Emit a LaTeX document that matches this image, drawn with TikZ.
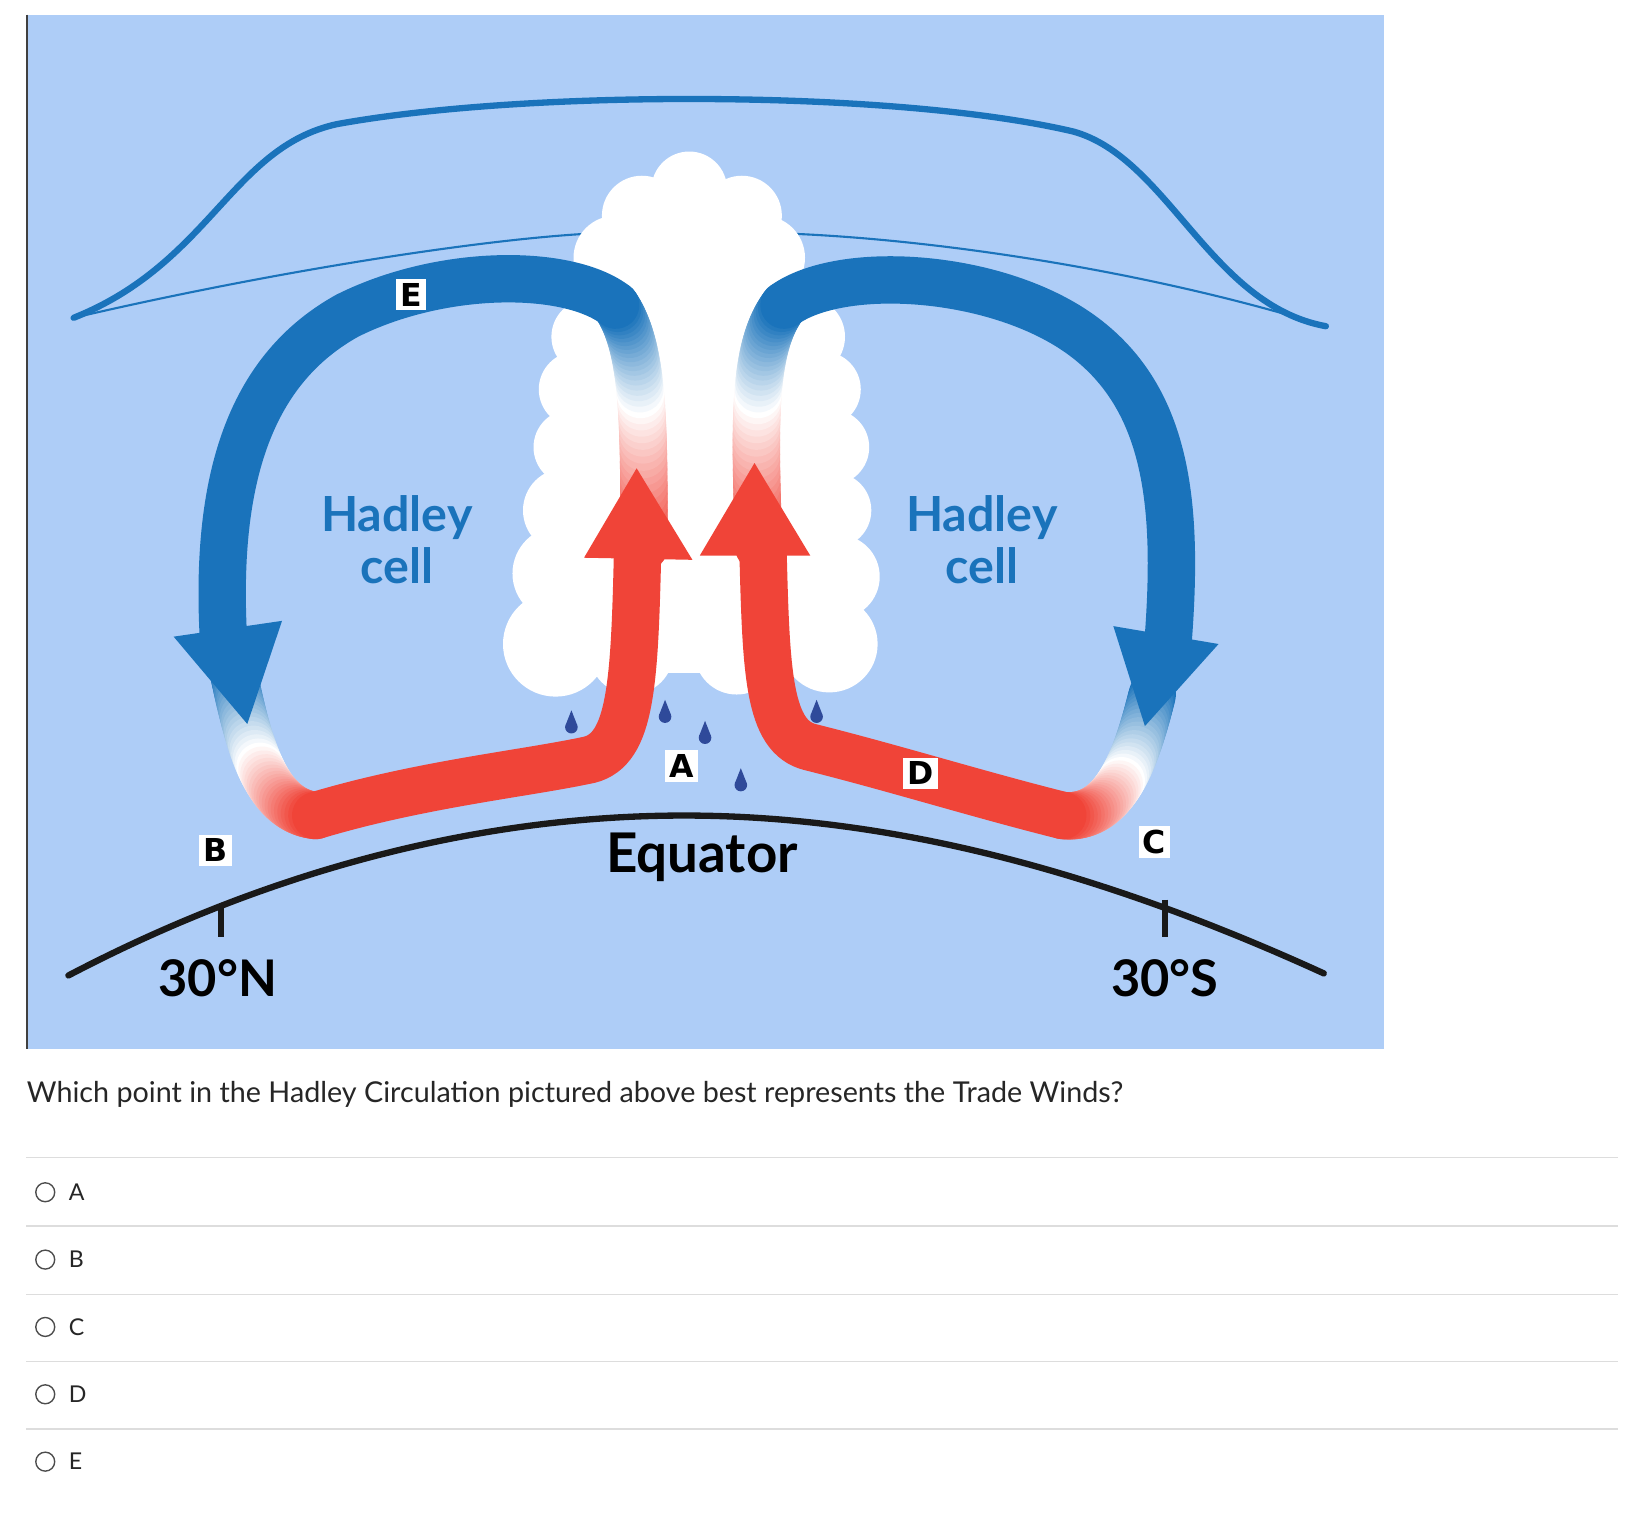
\documentclass[tikz,border=0pt]{standalone}
\usepackage{fontspec}
\setmainfont{Lato}
\newfontfamily\lab{DejaVu Sans}
\definecolor{sky}{HTML}{AECDF7}
\definecolor{hb}{HTML}{1A73BB}
\definecolor{hr}{HTML}{F04438}
\definecolor{drop}{HTML}{2F4A9A}
\definecolor{rule}{HTML}{DDDDDD}
\tikzset{band/.style={line width=45pt},
 lettr/.style={fill=white,inner sep=4pt,font=\lab\bfseries\fontsize{30}{30}\selectfont},
 hadley/.style={text=hb,align=center,font=\bfseries\fontsize{46}{50}\selectfont},
 opt/.style={anchor=west,font=\fontsize{22}{22}\selectfont,text=black!85},
 radio/.style={circle,draw=black!70,line width=1.3pt,minimum size=18pt,inner sep=0pt}}
\newcommand{\gradseg}[5]{%
 \path #1 .. controls #2 and #3 .. #4 \foreach \k in {0,...,40}{coordinate[pos=\k/40] (g\k)};
 \foreach \k [evaluate=\k as \nk using int(\k+1), evaluate=\k as \t using \k/40] in {0,...,39}{
  \ifnum#5=0
   \pgfmathsetmacro\pa{\t<0.5 ? 100-200*\t : 0}\pgfmathsetmacro\pb{\t<0.5 ? 0 : 200*\t-100}
  \else
   \pgfmathsetmacro\pb{\t<0.5 ? 100-200*\t : 0}\pgfmathsetmacro\pa{\t<0.5 ? 0 : 200*\t-100}
  \fi
  \ifdim\pa pt>0pt \colorlet{cc}{hb!\pa!white}\else\colorlet{cc}{hr!\pb!white}\fi
  \draw[band,cc,line cap=round] (g\k) -- (g\nk);
 }}
\begin{document}
\begin{tikzpicture}[x=1pt,y=-1pt]
\useasboundingbox (0,0) rectangle (1568,1445);
\fill[white] (0,0) rectangle (1568,1445);
\fill[sky] (25,14) rectangle (1315,997);
\draw[black!75,line width=2pt] (26,14) -- (26,997);
% upper atmosphere
\draw[hb,line width=6pt,line cap=round] (70,302) .. controls (200,250) and (220,140) .. (320,118) .. controls (500,85) and (850,85) .. (1020,125) .. controls (1110,150) and (1150,290) .. (1260,310);
\draw[hb,line width=2pt] (70,302) .. controls (250,260) and (450,228) .. (560,222);
\draw[hb,line width=2pt] (750,222) .. controls (900,228) and (1100,260) .. (1260,310);
% cloud
\fill[white] (570,230) rectangle (760,640);
\fill[white] (550,290) rectangle (782,640);
\foreach \x/\y/\r in {655/180/36,610/205/38,705/205/38,585/245/40,725/245/40,560/320/36,765/320/38,548/370/36,782/370/36,543/425/36,790/425/36,537/485/40,792/485/36,532/545/45,796/548/40,528/612/50,788/612/46,600/620/40,700/620/40,640/200/30,670/230/40}
 \fill[white] (\x,\y) circle[radius=\r];
% left loop
\gradseg{(612,520)}{(612,400)}{(612,330)}{(585,290)}{1}
\draw[band,hb,line cap=round] (585,290) .. controls (540,255) and (420,255) .. (330,300) .. controls (240,350) and (205,450) .. (212,600);
\gradseg{(222,640)}{(235,700)}{(250,770)}{(300,775)}{0}
\draw[band,hr,line cap=round] (300,775) .. controls (400,745) and (500,735) .. (560,722) .. controls (600,712) and (603,650) .. (606,520);
\fill[hb] (165,605) -- (268,590) -- (235,688) -- cycle;
\fill[hr] (555,530) -- (658,532) -- (605,445) -- cycle;
% right loop
\gradseg{(721,520)}{(717,400)}{(715,330)}{(745,290)}{1}
\draw[band,hb,line cap=round] (745,290) .. controls (800,250) and (950,260) .. (1030,320) .. controls (1110,380) and (1120,480) .. (1110,610);
\gradseg{(1095,660)}{(1080,720)}{(1060,780)}{(1010,775)}{0}
\draw[band,hr,line cap=round] (1010,775) .. controls (930,755) and (850,730) .. (770,710) .. controls (730,700) and (728,640) .. (725,520);
\fill[hb] (1058,595) -- (1158,612) -- (1088,690) -- cycle;
\fill[hr] (665,528) -- (770,528) -- (717,440) -- cycle;
% rain
\foreach \x/\y in {543/683,632/673,670/693,704/738,776/673}
 \fill[drop] (\x,\y+8) circle[radius=6] (\x-5.5,\y+6) -- (\x,\y-8) -- (\x+5.5,\y+6) -- cycle;
% earth
\draw[black!90,line width=6pt,line cap=round] (65,927) .. controls (250,830) and (450,775) .. (650,775) .. controls (850,775) and (1050,830) .. (1258,925);
\draw[black!90,line width=6pt] (210,860) -- (210,890);
\draw[black!90,line width=6pt] (1107,855) -- (1107,890);
% labels
\node[lettr] (E) at (391,280) {E};
\node[lettr] (B) at (205,808) {B};
\node[lettr] (C) at (1097,800) {C};
\node[lettr] (D) at (875,735) {D};
\node[lettr] (A) at (648,728) {A};
\node[hadley] (h1) at (377,513) {Hadley\\cell};
\node[hadley] (h2) at (933,513) {Hadley\\cell};
\node[font=\bfseries\fontsize{52}{52}\selectfont] (eq) at (667,815) {Equator};
\node[font=\bfseries\fontsize{48}{48}\selectfont] (n30) at (207,930) {30°N};
\node[font=\bfseries\fontsize{48}{48}\selectfont] (s30) at (1107,930) {30°S};
% question
\node[anchor=west,font=\fontsize{27.3}{27}\selectfont,text=black!85] (q) at (22,1040) {Which point in the Hadley Circulation pictured above best represents the Trade Winds?};
\foreach \y in {1100,1165,1230,1294,1358} \draw[rule,line width=1.2pt] (25,\y) -- (1538,\y);
\foreach \l/\y in {A/1133,B/1197,C/1261,D/1325,E/1389}{
 \node[radio] (r\l) at (43,\y) {};
 \node[opt] (o\l) at (62,\y) {\l};}
\end{tikzpicture}
\end{document}
